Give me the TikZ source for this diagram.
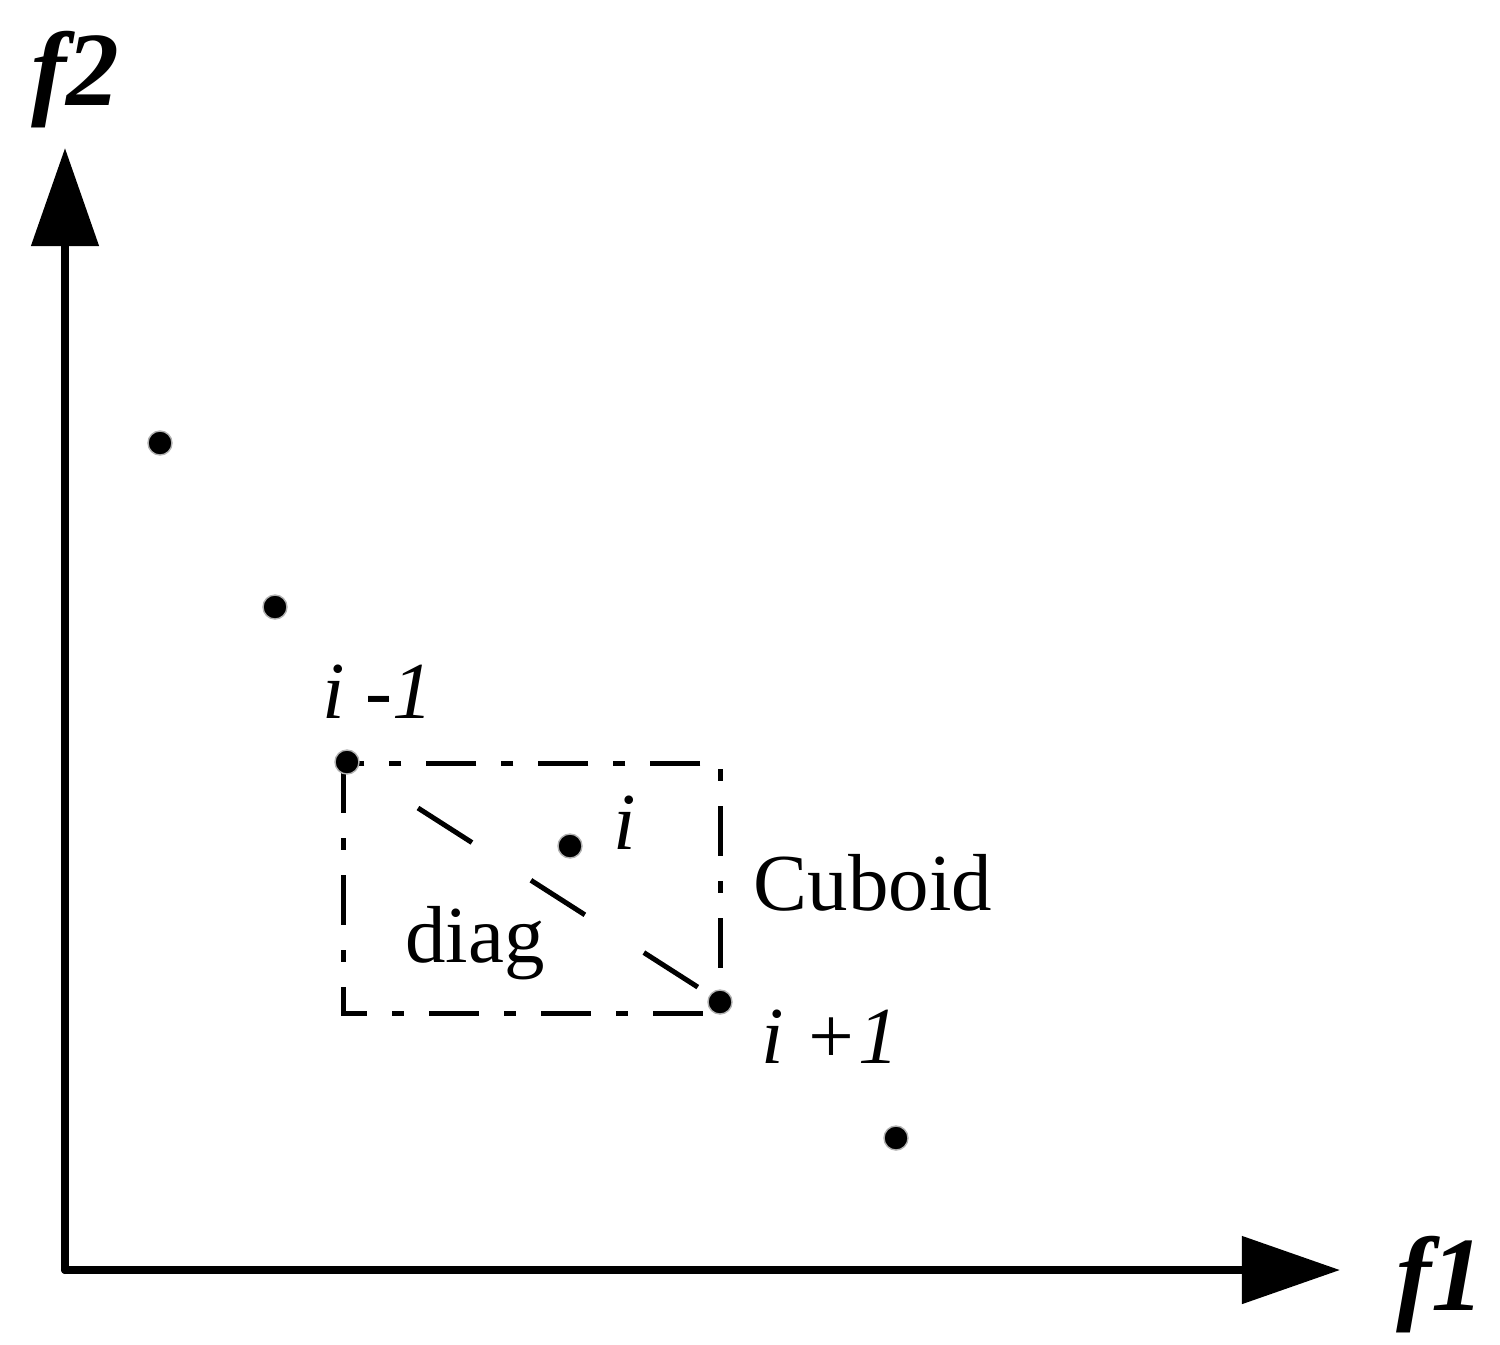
\documentclass[tikz,border=0pt]{standalone}
\usepackage{fontspec}
\setmainfont{Liberation Serif}
\usetikzlibrary{arrows.meta}
\begin{document}
\begin{tikzpicture}[x=0.01cm,y=-0.01cm,
  axis/.style={line width=0.08cm,-{Triangle[length=0.98cm,width=0.66cm]}},
  pt/.style={circle,fill=black,draw=gray!60,inner sep=0pt,minimum size=0.24cm},
  lbl/.style={font=\fontsize{23}{23}\selectfont\itshape},
  ax/.style={font=\fontsize{30}{30}\selectfont\bfseries\itshape}]
\useasboundingbox (0,0) rectangle (1500,1344);
\coordinate (o) at (65,1270);
\coordinate (ytip) at (65,148);
\coordinate (xtip) at (1340,1270);
\draw[axis,line cap=round] (o) -- (ytip);
\draw[axis,line cap=round] (o) -- (xtip);
\node[ax] (f2) at (75,80) {f2};
\node[ax] (f1) at (1440,1285) {f1};
\coordinate (r1) at (343,763);
\coordinate (r2) at (720,1013);
\draw[line width=0.05cm,dash pattern=on 0.5cm off 0.25cm on 0.12cm off 0.25cm] (r1) rectangle (r2);
\coordinate (d1) at (418,808);
\coordinate (d2) at (718,1000);
\draw[line width=0.05cm,dash pattern=on 0.64cm off 0.7cm] (d1) -- (d2);
\node[pt] (p1) at (160,443) {};
\node[pt] (p2) at (275,607) {};
\node[pt] (p3) at (347,762) {};
\node[pt] (p4) at (570,846) {};
\node[pt] (p5) at (720,1002) {};
\node[pt] (p6) at (896,1138) {};
\node[lbl] (l3) at (378,692) {i -1};
\node[lbl] (l4) at (625,823) {i};
\node[lbl] (l5) at (830,1037) {i +1};
\node[font=\fontsize{23}{23}\selectfont] (cub) at (873,883) {Cuboid};
\node[font=\fontsize{23}{23}\selectfont] (dg) at (475,943) {diag};
\end{tikzpicture}
\end{document}
